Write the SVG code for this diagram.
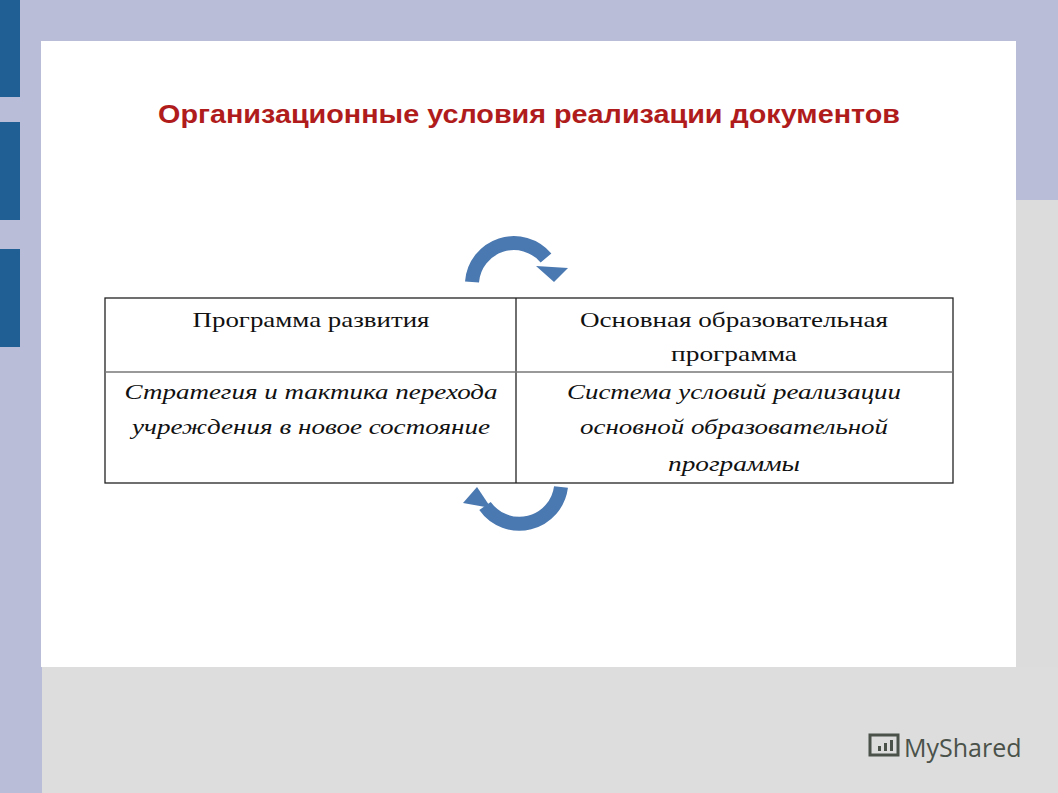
<svg xmlns="http://www.w3.org/2000/svg" width="1058" height="793" viewBox="0 0 1058 793">
<style>
.t{font-family:"Liberation Serif",serif;font-size:22px;fill:#111;text-anchor:middle}
.i{font-style:italic}
.arc{fill:none;stroke:#4a78b0;stroke-width:14}
.hd{fill:#4a78b0}
</style>
<rect width="1058" height="793" fill="#b9bdd7"/>
<rect x="1016" y="200" width="42" height="593" fill="#dcdcdc"/>
<rect x="42" y="667" width="1016" height="126" fill="#dddddd"/>
<rect x="0" y="0" width="20" height="97" fill="#1f5f93"/>
<rect x="0" y="122" width="20" height="98" fill="#1f5f93"/>
<rect x="0" y="249" width="20" height="98" fill="#1f5f93"/>
<rect x="41" y="41" width="975" height="626" fill="#fff"/>
<text x="529" y="123" font-family="Liberation Sans,sans-serif" font-size="26" font-weight="bold" fill="#b01c1c" text-anchor="middle" textLength="742" lengthAdjust="spacingAndGlyphs">Организационные условия реализации документов</text>
<g id="connectors">
<path class="arc" d="M472 282 A42 42 0 0 1 546 258"/>
<polygon class="hd" points="536,266 568,268 554,282"/>
<path class="arc" d="M561 487 A42 42 0 0 1 485 506"/>
<polygon class="hd" points="463,503 477,487 491,508"/>
</g>
<g id="table" fill="none" stroke="#222" stroke-width="1.3">
<rect x="105" y="298" width="848" height="185"/>
<line x1="516" y1="298" x2="516" y2="483"/>
<line x1="105" y1="372" x2="953" y2="372" stroke="#777"/>
</g>
<g id="n1"><text class="t" x="311" y="327" textLength="237" lengthAdjust="spacingAndGlyphs">Программа развития</text></g>
<g id="n2"><text class="t" x="734" y="327" textLength="308" lengthAdjust="spacingAndGlyphs">Основная образовательная</text><text class="t" x="734" y="361" textLength="126" lengthAdjust="spacingAndGlyphs">программа</text></g>
<g id="n3"><text class="t i" x="311" y="399" textLength="373" lengthAdjust="spacingAndGlyphs">Стратегия и тактика перехода</text><text class="t i" x="311" y="434" textLength="358" lengthAdjust="spacingAndGlyphs">учреждения в новое состояние</text></g>
<g id="n4"><text class="t i" x="734" y="399" textLength="334" lengthAdjust="spacingAndGlyphs">Система условий реализации</text><text class="t i" x="734" y="434" textLength="308" lengthAdjust="spacingAndGlyphs">основной образовательной</text><text class="t i" x="734" y="471" textLength="132" lengthAdjust="spacingAndGlyphs">программы</text></g>
<g id="logo">
<rect x="870" y="735" width="28" height="20" fill="none" stroke="#4a524a" stroke-width="3"/>
<rect x="878" y="746" width="3" height="5" fill="#4a524a"/><rect x="884" y="743" width="3" height="8" fill="#4a524a"/><rect x="890" y="740" width="3" height="11" fill="#4a524a"/>
<text x="904" y="757" font-family="Open Sans,sans-serif" font-size="25" fill="#4a524a">MyShared</text>
</g>
</svg>
